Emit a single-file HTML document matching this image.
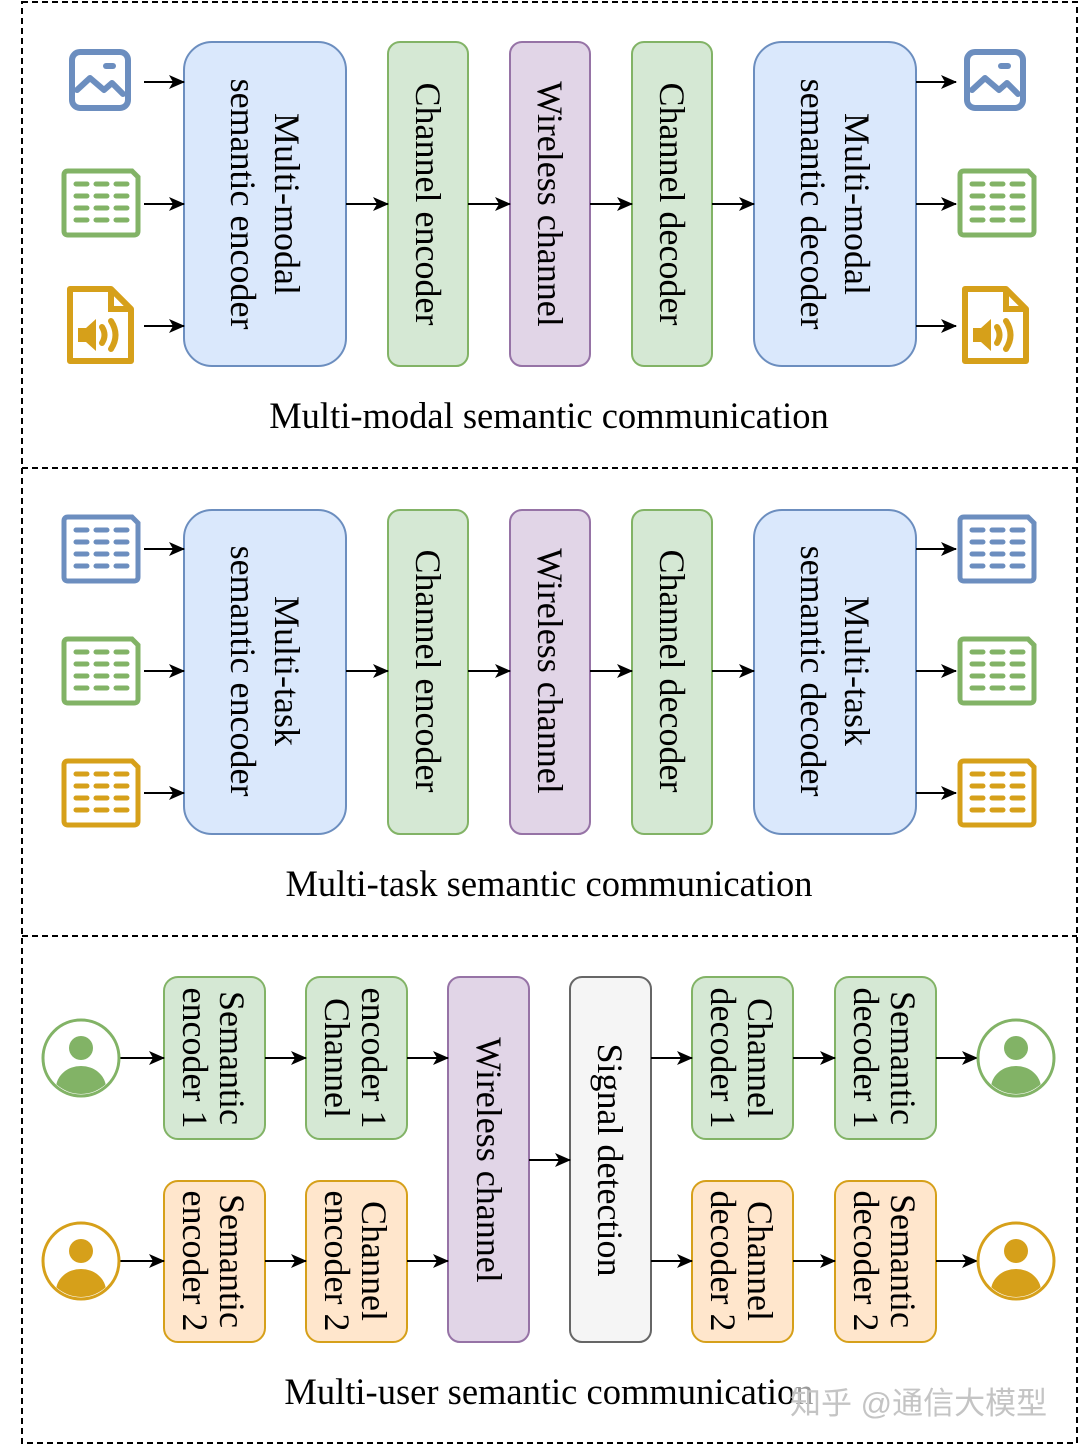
<!DOCTYPE html>
<html><head><meta charset="utf-8"><style>
html,body{margin:0;padding:0;background:#fff}
svg{display:block}
text{font-family:"Liberation Serif",serif;fill:#000}
</style></head><body>
<svg width="1080" height="1446" viewBox="0 0 1080 1446" xmlns="http://www.w3.org/2000/svg">
<defs>
<marker id="a" markerWidth="16" markerHeight="14" refX="15" refY="7" orient="auto" markerUnits="userSpaceOnUse">
<path d="M0,0 L16,7 L0,14 L4,7 Z" fill="#000"/></marker>
<g id="doc">
<path d="M6,2 H70 L76,8 V62 Q76,66 72,66 H6 Q2,66 2,62 V6 Q2,2 6,2 Z" fill="none" stroke="currentColor" stroke-width="5"/>
<g stroke="currentColor" stroke-width="5" stroke-linecap="round">
<path d="M14,15 H25 M34,15 H45 M54,15 H65"/>
<path d="M14,27 H25 M34,27 H45 M54,27 H65"/>
<path d="M14,39 H25 M34,39 H45 M54,39 H65"/>
<path d="M14,51 H25 M34,51 H45 M54,51 H65"/>
</g></g>
<g id="img">
<rect x="4" y="4" width="56" height="56" rx="8" fill="none" stroke="currentColor" stroke-width="6"/>
<path d="M9,42 L22,30 L36,42 L44,35 L55,46" fill="none" stroke="currentColor" stroke-width="6" stroke-linejoin="round" stroke-linecap="round"/>
<path d="M38,18 H45" stroke="currentColor" stroke-width="6" stroke-linecap="round"/>
</g>
<g id="aud">
<path d="M3,3 H44 L64,23 V75 H3 Z" fill="none" stroke="currentColor" stroke-width="6" stroke-linejoin="round"/>
<path d="M44,3 V23 H64" fill="none" stroke="currentColor" stroke-width="6"/>
<path d="M11,42 H19 L29,33 V65 L19,56 H11 Z" fill="currentColor"/>
<path d="M35,41 Q40,49 35,57" fill="none" stroke="currentColor" stroke-width="6" stroke-linecap="round"/>
<path d="M44,35 Q53,49 44,63" fill="none" stroke="currentColor" stroke-width="6" stroke-linecap="round"/>
</g>
<clipPath id="pc"><circle cx="0" cy="0" r="36"/></clipPath>
<g id="person">
<circle cx="0" cy="0" r="38" fill="#fff" stroke="currentColor" stroke-width="3"/>
<circle cx="0" cy="-10" r="12" fill="currentColor"/>
<ellipse cx="0" cy="30" rx="25" ry="22" fill="currentColor" clip-path="url(#pc)"/>
</g>
</defs>

<g fill="none" stroke="#000" stroke-width="2" stroke-dasharray="6,4">
<rect x="22" y="2" width="1055" height="1441"/>
<line x1="22" y1="468" x2="1077" y2="468"/>
<line x1="22" y1="936" x2="1077" y2="936"/>
</g>

<!-- Section 1 -->
<rect x="184" y="42" width="162" height="324" rx="28" fill="#dae8fc" stroke="#6c8ebf" stroke-width="2"/>
<rect x="388" y="42" width="80" height="324" rx="12" fill="#d5e8d4" stroke="#82b366" stroke-width="2"/>
<rect x="510" y="42" width="80" height="324" rx="12" fill="#e1d5e7" stroke="#9673a6" stroke-width="2"/>
<rect x="632" y="42" width="80" height="324" rx="12" fill="#d5e8d4" stroke="#82b366" stroke-width="2"/>
<rect x="754" y="42" width="162" height="324" rx="28" fill="#dae8fc" stroke="#6c8ebf" stroke-width="2"/>
<g font-size="36" text-anchor="middle">
<text transform="translate(265,204) rotate(90)" y="-10">Multi-modal</text>
<text transform="translate(265,204) rotate(90)" y="34">semantic encoder</text>
<text transform="translate(428,204) rotate(90)" y="12">Channel encoder</text>
<text transform="translate(550,204) rotate(90)" y="12">Wireless channel</text>
<text transform="translate(672,204) rotate(90)" y="12">Channel decoder</text>
<text transform="translate(835,204) rotate(90)" y="-10">Multi-modal</text>
<text transform="translate(835,204) rotate(90)" y="34">semantic decoder</text>
</g>
<g stroke="#000" stroke-width="2" marker-end="url(#a)">
<line x1="144" y1="82" x2="184" y2="82"/><line x1="144" y1="204" x2="184" y2="204"/><line x1="144" y1="326" x2="184" y2="326"/>
<line x1="346" y1="204" x2="388" y2="204"/><line x1="468" y1="204" x2="510" y2="204"/><line x1="590" y1="204" x2="632" y2="204"/><line x1="712" y1="204" x2="754" y2="204"/>
<line x1="916" y1="82" x2="956" y2="82"/><line x1="916" y1="204" x2="956" y2="204"/><line x1="916" y1="326" x2="956" y2="326"/>
</g>
<use href="#img" x="68" y="48" color="#6c8ebf"/>
<use href="#doc" x="62" y="169" color="#82b366"/>
<use href="#aud" x="67" y="286" color="#d6a01a"/>
<use href="#img" x="963" y="48" color="#6c8ebf"/>
<use href="#doc" x="958" y="169" color="#82b366"/>
<use href="#aud" x="962" y="286" color="#d6a01a"/>
<text x="549" y="428" font-size="36.5" text-anchor="middle">Multi-modal semantic communication</text>

<!-- Section 2 -->
<rect x="184" y="510" width="162" height="324" rx="28" fill="#dae8fc" stroke="#6c8ebf" stroke-width="2"/>
<rect x="388" y="510" width="80" height="324" rx="12" fill="#d5e8d4" stroke="#82b366" stroke-width="2"/>
<rect x="510" y="510" width="80" height="324" rx="12" fill="#e1d5e7" stroke="#9673a6" stroke-width="2"/>
<rect x="632" y="510" width="80" height="324" rx="12" fill="#d5e8d4" stroke="#82b366" stroke-width="2"/>
<rect x="754" y="510" width="162" height="324" rx="28" fill="#dae8fc" stroke="#6c8ebf" stroke-width="2"/>
<g font-size="36" text-anchor="middle">
<text transform="translate(265,671) rotate(90)" y="-10">Multi-task</text>
<text transform="translate(265,671) rotate(90)" y="34">semantic encoder</text>
<text transform="translate(428,671) rotate(90)" y="12">Channel encoder</text>
<text transform="translate(550,671) rotate(90)" y="12">Wireless channel</text>
<text transform="translate(672,671) rotate(90)" y="12">Channel decoder</text>
<text transform="translate(835,671) rotate(90)" y="-10">Multi-task</text>
<text transform="translate(835,671) rotate(90)" y="34">semantic decoder</text>
</g>
<g stroke="#000" stroke-width="2" marker-end="url(#a)">
<line x1="144" y1="549" x2="184" y2="549"/><line x1="144" y1="671" x2="184" y2="671"/><line x1="144" y1="793" x2="184" y2="793"/>
<line x1="346" y1="671" x2="388" y2="671"/><line x1="468" y1="671" x2="510" y2="671"/><line x1="590" y1="671" x2="632" y2="671"/><line x1="712" y1="671" x2="754" y2="671"/>
<line x1="916" y1="549" x2="956" y2="549"/><line x1="916" y1="671" x2="956" y2="671"/><line x1="916" y1="793" x2="956" y2="793"/>
</g>
<use href="#doc" x="62" y="515" color="#6c8ebf"/>
<use href="#doc" x="62" y="637" color="#82b366"/>
<use href="#doc" x="62" y="759" color="#d6a01a"/>
<use href="#doc" x="958" y="515" color="#6c8ebf"/>
<use href="#doc" x="958" y="637" color="#82b366"/>
<use href="#doc" x="958" y="759" color="#d6a01a"/>
<text x="549" y="896" font-size="36.5" text-anchor="middle">Multi-task semantic communication</text>

<!-- Section 3 -->
<g stroke-width="2">
<rect x="164" y="977" width="101" height="162" rx="14" fill="#d5e8d4" stroke="#82b366"/>
<rect x="306" y="977" width="101" height="162" rx="14" fill="#d5e8d4" stroke="#82b366"/>
<rect x="692" y="977" width="101" height="162" rx="14" fill="#d5e8d4" stroke="#82b366"/>
<rect x="835" y="977" width="101" height="162" rx="14" fill="#d5e8d4" stroke="#82b366"/>
<rect x="164" y="1181" width="101" height="161" rx="14" fill="#ffe6cc" stroke="#d6a01a"/>
<rect x="306" y="1181" width="101" height="161" rx="14" fill="#ffe6cc" stroke="#d6a01a"/>
<rect x="692" y="1181" width="101" height="161" rx="14" fill="#ffe6cc" stroke="#d6a01a"/>
<rect x="835" y="1181" width="101" height="161" rx="14" fill="#ffe6cc" stroke="#d6a01a"/>
<rect x="448" y="977" width="81" height="365" rx="12" fill="#e1d5e7" stroke="#9673a6"/>
<rect x="570" y="977" width="81" height="365" rx="12" fill="#f5f5f5" stroke="#666"/>
</g>
<g font-size="36" text-anchor="middle">
<text transform="translate(214,1058) rotate(90)" y="-6">Semantic</text>
<text transform="translate(214,1058) rotate(90)" y="31">encoder 1</text>
<text transform="translate(356,1058) rotate(90)" y="-6">encoder 1</text>
<text transform="translate(356,1058) rotate(90)" y="31">Channel</text>
<text transform="translate(742,1058) rotate(90)" y="-6">Channel</text>
<text transform="translate(742,1058) rotate(90)" y="31">decoder 1</text>
<text transform="translate(885,1058) rotate(90)" y="-6">Semantic</text>
<text transform="translate(885,1058) rotate(90)" y="31">decoder 1</text>
<text transform="translate(214,1261) rotate(90)" y="-6">Semantic</text>
<text transform="translate(214,1261) rotate(90)" y="31">encoder 2</text>
<text transform="translate(356,1261) rotate(90)" y="-6">Channel</text>
<text transform="translate(356,1261) rotate(90)" y="31">encoder 2</text>
<text transform="translate(742,1261) rotate(90)" y="-6">Channel</text>
<text transform="translate(742,1261) rotate(90)" y="31">decoder 2</text>
<text transform="translate(885,1261) rotate(90)" y="-6">Semantic</text>
<text transform="translate(885,1261) rotate(90)" y="31">decoder 2</text>
<text transform="translate(489,1160) rotate(90)" y="12">Wireless channel</text>
<text transform="translate(610,1160) rotate(90)" y="12">Signal detection</text>
</g>
<g stroke="#000" stroke-width="2" marker-end="url(#a)">
<line x1="120" y1="1058" x2="164" y2="1058"/><line x1="265" y1="1058" x2="306" y2="1058"/><line x1="407" y1="1058" x2="448" y2="1058"/>
<line x1="120" y1="1261" x2="164" y2="1261"/><line x1="265" y1="1261" x2="306" y2="1261"/><line x1="407" y1="1261" x2="448" y2="1261"/>
<line x1="529" y1="1160" x2="570" y2="1160"/>
<line x1="651" y1="1058" x2="692" y2="1058"/><line x1="793" y1="1058" x2="835" y2="1058"/><line x1="936" y1="1058" x2="977" y2="1058"/>
<line x1="651" y1="1261" x2="692" y2="1261"/><line x1="793" y1="1261" x2="835" y2="1261"/><line x1="936" y1="1261" x2="977" y2="1261"/>
</g>
<use href="#person" x="81" y="1058" color="#82b366"/>
<use href="#person" x="81" y="1261" color="#d6a01a"/>
<use href="#person" x="1016" y="1058" color="#82b366"/>
<use href="#person" x="1016" y="1261" color="#d6a01a"/>
<text x="549" y="1404" font-size="36.5" text-anchor="middle">Multi-user semantic communication</text>
<rect x="792" y="1380" width="262" height="40" fill="#fff" opacity="0.6"/>
<text x="790" y="1414" font-size="31" style="font-family:'Liberation Sans','Noto Sans CJK SC',sans-serif;fill:#c4c4c4">知乎 @通信大模型</text>
</svg>
</body></html>
